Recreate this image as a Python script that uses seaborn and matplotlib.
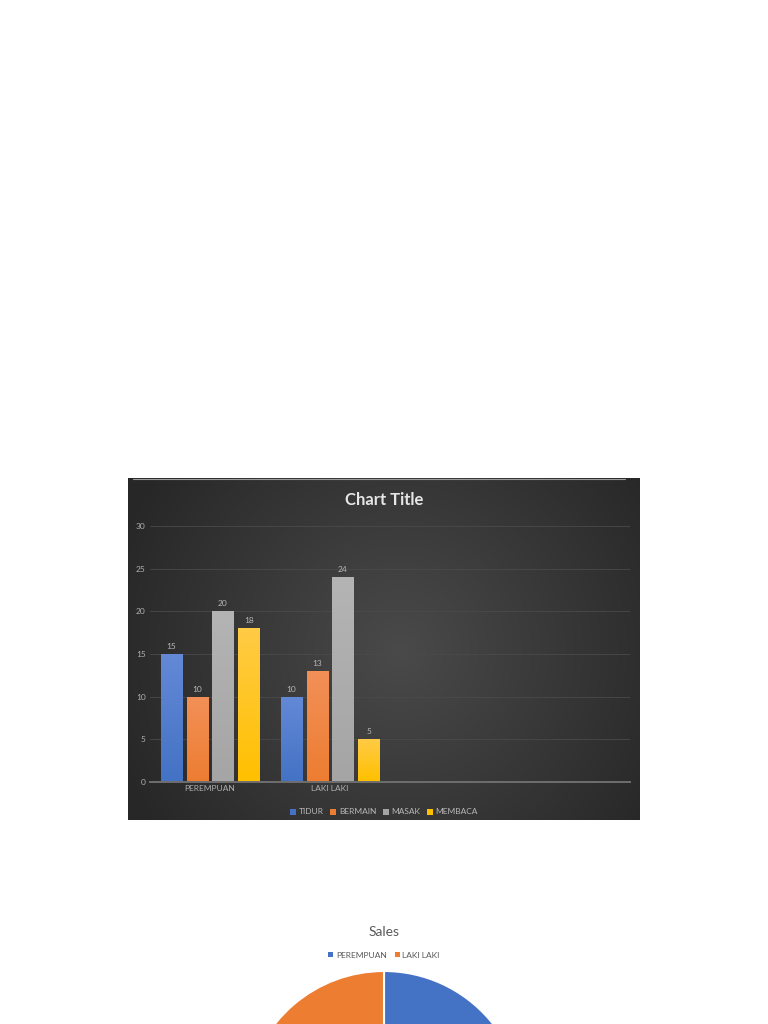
import numpy as np
import pandas as pd
import matplotlib.pyplot as plt
import seaborn as sns
from matplotlib.patches import Rectangle
from matplotlib.colors import to_rgb

# data
groups = ["PEREMPUAN", "LAKI LAKI"]
hobbies = ["TIDUR", "BERMAIN", "MASAK", "MEMBACA"]
perempuan = [15, 10, 20, 18]
laki_laki = [10, 13, 24, 5]
pie_labels = ["PEREMPUAN", "LAKI LAKI"]
pie_values = [63, 52]

colors = ["#4472C4", "#ED7D31", "#A5A5A5", "#FFC000"]
light = ["#6389D6", "#F29058", "#B4B4B4", "#FFCB45"]

df = pd.DataFrame({
    "group": [g for g in groups for _ in hobbies],
    "hobby": hobbies * len(groups),
    "value": perempuan + laki_laki,
})

sns.set_theme(style="white")
plt.rcParams["font.family"] = ["Lato", "DejaVu Sans"]

W, H = 768, 1024
fig = plt.figure(figsize=(W / 100, H / 100), dpi=100)
fig.patch.set_facecolor("white")

def frac(x0, y0, x1, y1):
    return [x0 / W, 1 - y1 / H, (x1 - x0) / W, (y1 - y0) / H]

# dark panel with radial glow
bg = fig.add_axes(frac(128, 478, 640, 820))
bg.set_axis_off()
yy, xx = np.mgrid[0:342, 0:512]
d = np.sqrt(((xx - 272) / 300.0) ** 2 + ((yy - 172) / 300.0) ** 2)
d = np.clip(d, 0, 1)
c0, c1 = np.array([0.29, 0.29, 0.29]), np.array([0.155, 0.155, 0.155])
img = c0[None, None, :] * (1 - d[..., None]) + c1[None, None, :] * d[..., None]
bg.imshow(img, extent=[0, 1, 0, 1], aspect="auto", origin="upper")
bg.set_xlim(0, 1)
bg.set_ylim(0, 1)
bg.plot([0.01, 0.97], [0.997, 0.997], color="#9a9a9a", lw=0.8)
bg.text(0.5, 1 - (500 - 478) / 342, "Chart Title", ha="center", va="center",
        color="#e6e6e6", fontsize=12, fontweight="bold")

# bar chart
ax = fig.add_axes(frac(150, 526, 630, 782))
ax.patch.set_alpha(0)
sns.barplot(data=df, x="group", y="value", hue="hobby", order=groups,
            hue_order=hobbies, palette=colors, width=0.86, gap=0.18,
            saturation=1, linewidth=0, ax=ax, legend=True)
ax.set_xlim(-0.5, 3.5)
ax.set_ylim(0, 30)
ax.set_yticks(range(0, 31, 5))
ax.grid(axis="y", color="#4a4a4a", lw=0.6)
ax.set_axisbelow(True)
for s in ["top", "right", "left"]:
    ax.spines[s].set_visible(False)
ax.spines["bottom"].set_color("#6e6e6e")
ax.spines["bottom"].set_linewidth(1.4)
ax.tick_params(axis="both", length=0, labelsize=6, labelcolor="#b0b0b0")
ax.tick_params(axis="x", pad=2)
ax.tick_params(axis="y", pad=3)
ax.set_xlabel("")
ax.set_ylabel("")

# gradient fill for each bar
for i, cont in enumerate(ax.containers):
    grad = np.linspace(0, 1, 64)[:, None]
    top = np.array(to_rgb(light[i]))
    bot = np.array(to_rgb(colors[i]))
    gimg = top[None, None, :] * (1 - grad[..., None]) + bot[None, None, :] * grad[..., None]
    for bar in cont:
        bar.set_edgecolor("none")
        x0, w, h = bar.get_x(), bar.get_width(), bar.get_height()
        if np.isnan(h) or h == 0:
            continue
        im = ax.imshow(gimg, extent=[x0, x0 + w, 0, h], aspect="auto",
                       origin="upper", zorder=2)
        im.set_clip_path(bar)
    ax.bar_label(cont, fontsize=6, color="#b8b8b8", padding=3)
ax.set_xlim(-0.5, 3.5)
ax.set_ylim(0, 30)

leg = ax.legend(loc="center", bbox_to_anchor=(384 / W, 1 - 812 / H),
                bbox_transform=fig.transFigure, ncol=4, frameon=False,
                fontsize=6, handlelength=0.7, handleheight=0.7,
                handletextpad=0.3, columnspacing=0.8)
for t in leg.get_texts():
    t.set_color("#b8b8b8")
for hnd in leg.legend_handles:
    hnd.set_edgecolor("none")

# pie chart (partly off the page)
r = 139
pax = fig.add_axes(frac(384 - r, 971, 384 + r, 971 + 2 * r))
pax.pie(pie_values, colors=["#4472C4", "#ED7D31"], startangle=90,
        counterclock=False, wedgeprops=dict(edgecolor="white", linewidth=1.5))
pax.set_xlim(-1, 1)
pax.set_ylim(-1, 1)
fig.text(384 / W, 1 - 932 / H, "Sales", ha="center", va="center",
         fontsize=10, color="#595959")
fig.legend(handles=[Rectangle((0, 0), 1, 1, color="#4472C4", lw=0),
                    Rectangle((0, 0), 1, 1, color="#ED7D31", lw=0)],
           labels=pie_labels, loc="center", bbox_to_anchor=(384 / W, 1 - 955 / H),
           ncol=2, frameon=False, fontsize=6, labelcolor="#595959",
           handlelength=0.6, handleheight=0.6, handletextpad=0.3,
           columnspacing=1.0)

fig.savefig("out.png", dpi=100, facecolor="white")
